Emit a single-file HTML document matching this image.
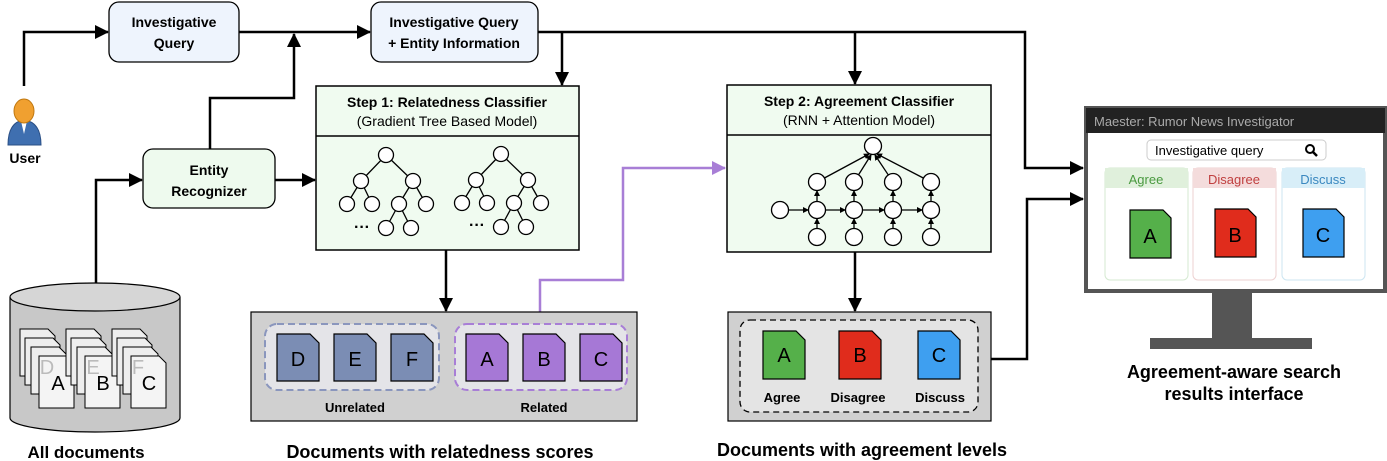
<!DOCTYPE html>
<html><head><meta charset="utf-8"><style>
body{margin:0;background:#fff}
svg{display:block}
text{font-family:"Liberation Sans",sans-serif}
.b{font-weight:bold}
</style></head><body>
<svg width="1387" height="461" viewBox="0 0 1387 461" xmlns="http://www.w3.org/2000/svg">
<defs>
<marker id="ah2" markerWidth="14" markerHeight="14" refX="13" refY="7" orient="auto" markerUnits="userSpaceOnUse"><path d="M0,0 L14,7 L0,14 z" fill="#000"/></marker>
<marker id="ap" markerWidth="14" markerHeight="14" refX="13" refY="7" orient="auto" markerUnits="userSpaceOnUse"><path d="M0,0 L14,7 L0,14 z" fill="#a87ed6"/></marker>
<marker id="as" markerWidth="6" markerHeight="6" refX="5" refY="3" orient="auto" markerUnits="userSpaceOnUse"><path d="M0,0 L6,3 L0,6 z" fill="#000"/></marker>
</defs>
<g stroke="#000" stroke-width="2.5" fill="none">
<polyline points="24,86 24,32 108,32" marker-end="url(#ah2)"/>
<line x1="239" y1="32" x2="370" y2="32" marker-end="url(#ah2)"/>
<polyline points="210,149 210,98 294,98 294,34" marker-end="url(#ah2)"/>
<polyline points="538,32 1025,32 1025,168 1083,168" marker-end="url(#ah2)"/>
<line x1="562" y1="32" x2="562" y2="85" marker-end="url(#ah2)"/>
<line x1="855" y1="32" x2="855" y2="84" marker-end="url(#ah2)"/>
<polyline points="96,288 96,180 142,180" marker-end="url(#ah2)"/>
<line x1="275" y1="180" x2="315" y2="180" marker-end="url(#ah2)"/>
<line x1="446" y1="250" x2="446" y2="311" marker-end="url(#ah2)"/>
<line x1="855" y1="252" x2="855" y2="311" marker-end="url(#ah2)"/>
<polyline points="991,359 1027,359 1027,199 1083,199" marker-end="url(#ah2)"/>
</g>
<polyline points="540,325 540,280 623,280 623,168 725,168" stroke="#a87ed6" stroke-width="2.5" fill="none" marker-end="url(#ap)"/>

<!-- user -->
<path d="M8,145 Q8,122 24,120 Q41,122 41,145 z" fill="#3f6fb0" stroke="#2a4f85"/>
<path d="M21,121 L24,134 L27,121 z" fill="#fff"/>
<ellipse cx="24" cy="111" rx="10" ry="12" fill="#f0a030" stroke="#c07810"/>
<text x="25" y="163" font-size="14" class="b" text-anchor="middle">User</text>

<!-- top boxes -->
<rect x="109" y="2" width="130" height="60" rx="10" fill="#eef4fd" stroke="#000" stroke-width="1.3"/>
<text x="174" y="27" font-size="14" class="b" text-anchor="middle">Investigative</text>
<text x="174" y="48" font-size="14" class="b" text-anchor="middle">Query</text>
<rect x="371" y="2" width="167" height="60" rx="10" fill="#eef4fd" stroke="#000" stroke-width="1.3"/>
<text x="454" y="27" font-size="14" class="b" text-anchor="middle">Investigative Query</text>
<text x="454" y="48" font-size="14" class="b" text-anchor="middle">+ Entity Information</text>
<rect x="143" y="149" width="132" height="59" rx="10" fill="#eefaee" stroke="#000" stroke-width="1.3"/>
<text x="209" y="175" font-size="14" class="b" text-anchor="middle">Entity</text>
<text x="209" y="196" font-size="14" class="b" text-anchor="middle">Recognizer</text>

<!-- step1 -->
<rect x="316" y="86" width="263" height="164" fill="#f0fbf0" stroke="#000" stroke-width="1.5"/>
<line x1="316" y1="136" x2="579" y2="136" stroke="#000" stroke-width="1.5"/>
<text x="447" y="107" font-size="14" class="b" text-anchor="middle">Step 1: Relatedness Classifier</text>
<text x="447" y="126" font-size="14" text-anchor="middle">(Gradient Tree Based Model)</text>
<g stroke="#000" stroke-width="1.3" fill="#fff">
<g id="tree">
<line x1="386" y1="155" x2="361" y2="181"/><line x1="386" y1="155" x2="413" y2="181"/>
<line x1="361" y1="181" x2="347" y2="204"/><line x1="361" y1="181" x2="372" y2="204"/>
<line x1="413" y1="181" x2="399" y2="204"/><line x1="413" y1="181" x2="426" y2="204"/>
<line x1="399" y1="204" x2="386" y2="228"/><line x1="399" y1="204" x2="411" y2="228"/>
<circle cx="386" cy="155" r="7.5"/><circle cx="361" cy="181" r="7.5"/><circle cx="413" cy="181" r="7.5"/>
<circle cx="347" cy="204" r="7.5"/><circle cx="372" cy="204" r="7.5"/><circle cx="399" cy="204" r="7.5"/><circle cx="426" cy="204" r="7.5"/>
<circle cx="386" cy="228" r="7.5"/><circle cx="411" cy="228" r="7.5"/>
</g>
<use href="#tree" x="115" y="-1"/>
</g>
<text x="362" y="232" font-size="16" class="b" text-anchor="middle">···</text>
<text x="477" y="230" font-size="16" class="b" text-anchor="middle">···</text>

<!-- step2 -->
<rect x="727" y="85" width="264" height="167" fill="#f0fbf0" stroke="#000" stroke-width="1.5"/>
<line x1="727" y1="135" x2="991" y2="135" stroke="#000" stroke-width="1.5"/>
<text x="859" y="106" font-size="14" class="b" text-anchor="middle">Step 2: Agreement Classifier</text>
<text x="859" y="125" font-size="14" text-anchor="middle">(RNN + Attention Model)</text>
<g stroke="#000" stroke-width="1.3" fill="#fff">
<line x1="817" y1="182" x2="869" y2="154" marker-end="url(#as)"/>
<line x1="854" y1="182" x2="871" y2="155" marker-end="url(#as)"/>
<line x1="893" y1="182" x2="875" y2="155" marker-end="url(#as)"/>
<line x1="931" y1="182" x2="877" y2="154" marker-end="url(#as)"/>
<line x1="789" y1="210" x2="808" y2="210" marker-end="url(#as)"/>
<line x1="826" y1="210" x2="845" y2="210" marker-end="url(#as)"/>
<line x1="863" y1="210" x2="884" y2="210" marker-end="url(#as)"/>
<line x1="902" y1="210" x2="922" y2="210" marker-end="url(#as)"/>
<line x1="817" y1="228" x2="817" y2="219" marker-end="url(#as)"/><line x1="817" y1="201" x2="817" y2="191" marker-end="url(#as)"/>
<line x1="854" y1="228" x2="854" y2="219" marker-end="url(#as)"/><line x1="854" y1="201" x2="854" y2="191" marker-end="url(#as)"/>
<line x1="893" y1="228" x2="893" y2="219" marker-end="url(#as)"/><line x1="893" y1="201" x2="893" y2="191" marker-end="url(#as)"/>
<line x1="931" y1="228" x2="931" y2="219" marker-end="url(#as)"/><line x1="931" y1="201" x2="931" y2="191" marker-end="url(#as)"/>
<circle cx="873" cy="146" r="8.5"/>
<circle cx="817" cy="182" r="8.5"/><circle cx="854" cy="182" r="8.5"/><circle cx="893" cy="182" r="8.5"/><circle cx="931" cy="182" r="8.5"/>
<circle cx="780" cy="210" r="8.5"/>
<circle cx="817" cy="210" r="8.5"/><circle cx="854" cy="210" r="8.5"/><circle cx="893" cy="210" r="8.5"/><circle cx="931" cy="210" r="8.5"/>
<circle cx="817" cy="237" r="8.5"/><circle cx="854" cy="237" r="8.5"/><circle cx="893" cy="237" r="8.5"/><circle cx="931" cy="237" r="8.5"/>
</g>

<!-- cylinder -->
<path d="M10,297 L10,418 A85,14 0 0 0 180,418 L180,297" fill="#c8c8c8" stroke="#000" stroke-width="1.2"/>
<ellipse cx="95" cy="297" rx="85" ry="14" fill="#d6d6d6" stroke="#000" stroke-width="1.2"/>
<g stroke="#000" stroke-width="1" fill="#eee">
<g id="stk">
<path d="M20,329 h28 l7,7 v40 h-35z"/>
<path d="M25,338 h28 l7,7 v40 h-35z"/>
<path d="M31,347 h28 l7,7 v40 h-35z"/>
<path d="M39,356 h28 l7,7 v45 h-35z" fill="#f4f4f4"/>
</g>
<use href="#stk" x="46"/>
<use href="#stk" x="92"/>
</g>
<g font-size="20" text-anchor="middle">
<text x="47" y="374" fill="#bbb">D</text>
<text x="58" y="390">A</text>
<text x="93" y="374" fill="#bbb">E</text>
<text x="103" y="390">B</text>
<text x="138" y="374" fill="#bbb">F</text>
<text x="149" y="390">C</text>
</g>
<text x="86" y="458" font-size="17" class="b" text-anchor="middle">All documents</text>

<!-- relatedness box -->
<rect x="251" y="312" width="386" height="109" fill="#d0d0d0" stroke="#000" stroke-width="1.2"/>
<rect x="265" y="324" width="174" height="66" rx="12" fill="#e4e4e8" stroke="#8a96bd" stroke-width="2" stroke-dasharray="7,4"/>
<rect x="455" y="324" width="172" height="66" rx="12" fill="#e4e4e8" stroke="#a87ed6" stroke-width="2" stroke-dasharray="7,4"/>
<g stroke="#000" stroke-width="1.2">
<path d="M277,334 h33 l9,9 v38 h-42z" fill="#7b8db4"/>
<path d="M334,334 h33 l9,9 v38 h-42z" fill="#7b8db4"/>
<path d="M391,334 h33 l9,9 v38 h-42z" fill="#7b8db4"/>
<path d="M466,334 h33 l9,9 v38 h-42z" fill="#a678d6"/>
<path d="M523,334 h33 l9,9 v38 h-42z" fill="#a678d6"/>
<path d="M580,334 h33 l9,9 v38 h-42z" fill="#a678d6"/>
</g>
<g font-size="20" text-anchor="middle">
<text x="298" y="366">D</text><text x="355" y="366">E</text><text x="412" y="366">F</text>
<text x="487" y="366">A</text><text x="544" y="366">B</text><text x="601" y="366">C</text>
</g>
<text x="355" y="412" font-size="13" class="b" text-anchor="middle">Unrelated</text>
<text x="544" y="412" font-size="13" class="b" text-anchor="middle">Related</text>
<text x="440" y="458" font-size="18" class="b" text-anchor="middle">Documents with relatedness scores</text>

<!-- agreement box -->
<rect x="728" y="312" width="263" height="109" fill="#d0d0d0" stroke="#000" stroke-width="1.2"/>
<rect x="740" y="320" width="238" height="92" rx="10" fill="#e4e4e4" stroke="#000" stroke-width="1.3" stroke-dasharray="6,4"/>
<g stroke="#000" stroke-width="1.2">
<path d="M763,331 h33 l9,9 v39 h-42z" fill="#55b04a"/>
<path d="M839,331 h33 l9,9 v39 h-42z" fill="#e02c1c"/>
<path d="M918,331 h33 l9,9 v39 h-42z" fill="#3e9ff0"/>
</g>
<g font-size="20" text-anchor="middle">
<text x="784" y="362">A</text><text x="860" y="362">B</text><text x="939" y="362">C</text>
</g>
<g font-size="13" class="b" text-anchor="middle">
<text x="782" y="402">Agree</text><text x="858" y="402">Disagree</text><text x="940" y="402">Discuss</text>
</g>
<text x="862" y="456" font-size="18" class="b" text-anchor="middle">Documents with agreement levels</text>

<!-- monitor -->
<rect x="1212" y="291" width="40" height="48" fill="#555"/>
<rect x="1150" y="338" width="162" height="11" fill="#555"/>
<rect x="1086" y="108" width="299" height="183" fill="#fff" stroke="#555" stroke-width="4"/>
<rect x="1086" y="108" width="299" height="25" fill="#222"/>
<text x="1094" y="126" font-size="13" fill="#aaa">Maester: Rumor News Investigator</text>
<rect x="1147" y="140" width="179" height="20" rx="4" fill="#fff" stroke="#ccc"/>
<text x="1155" y="155" font-size="13">Investigative query</text>
<circle cx="1310" cy="149" r="4" fill="none" stroke="#000" stroke-width="2"/>
<line x1="1313" y1="152" x2="1317" y2="156" stroke="#000" stroke-width="2.5"/>
<rect x="1105" y="168" width="83" height="112" rx="5" fill="#fff" stroke="#d6ead2"/>
<rect x="1105" y="168" width="83" height="20" fill="#e0f0dc"/>
<text x="1146" y="184" font-size="13" fill="#4a9a40" text-anchor="middle">Agree</text>
<rect x="1193" y="168" width="83" height="112" rx="5" fill="#fff" stroke="#eed2d2"/>
<rect x="1193" y="168" width="83" height="20" fill="#f4dcdc"/>
<text x="1234" y="184" font-size="13" fill="#c04040" text-anchor="middle">Disagree</text>
<rect x="1282" y="168" width="83" height="112" rx="5" fill="#fff" stroke="#cde6f2"/>
<rect x="1282" y="168" width="83" height="20" fill="#d8eef8"/>
<text x="1323" y="184" font-size="13" fill="#3a88c0" text-anchor="middle">Discuss</text>
<g stroke="#000" stroke-width="1.2">
<path d="M1130,210 h33 l8,8 v40 h-41z" fill="#55b04a"/>
<path d="M1215,209 h33 l8,8 v40 h-41z" fill="#e02c1c"/>
<path d="M1303,209 h33 l8,8 v40 h-41z" fill="#3e9ff0"/>
</g>
<g font-size="20" text-anchor="middle">
<text x="1150" y="243">A</text><text x="1235" y="242">B</text><text x="1323" y="242">C</text>
</g>
<text x="1234" y="378" font-size="18" class="b" text-anchor="middle">Agreement-aware search</text>
<text x="1234" y="400" font-size="18" class="b" text-anchor="middle">results interface</text>
</svg>
</body></html>
